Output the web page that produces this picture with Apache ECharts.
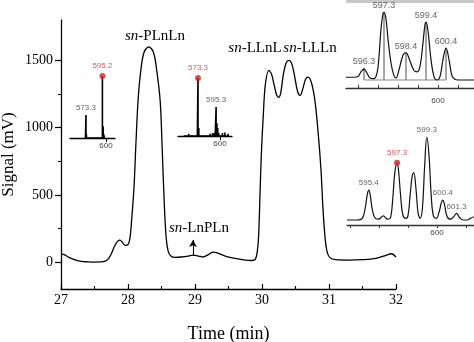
<!DOCTYPE html>
<html><head><meta charset="utf-8">
<script src="https://cdn.jsdelivr.net/npm/echarts@6/dist/echarts.min.js"></script>
<style>html,body{margin:0;padding:0;background:#fff}#c{width:474px;height:342px}</style>
</head><body><div id="c"></div>
<script>
// ---------- main chromatogram ----------
const timeMin = [27.00,27.05,27.10,27.20,27.30,27.40,27.50,27.60,27.65,27.70,27.75,27.80,27.85,27.88,27.92,27.96,28.00,28.03,28.06,28.09,28.12,28.15,28.19,28.24,28.31,28.38,28.43,28.48,28.51,28.54,28.57,28.60,28.64,28.70,28.80,28.90,28.97,29.05,29.12,29.18,29.27,29.35,29.45,29.60,29.75,29.85,29.90,29.93,29.95,29.97,29.99,30.02,30.05,30.10,30.14,30.18,30.22,30.25,30.28,30.32,30.36,30.40,30.44,30.48,30.53,30.57,30.61,30.65,30.69,30.74,30.79,30.84,30.88,30.91,30.94,30.97,31.01,31.10,31.30,31.50,31.70,31.85,31.93,32.00];
const signalMV = [60,55,40,18,6,2,0,1,5,20,60,120,158,163,145,125,130,180,350,560,900,1200,1420,1560,1600,1560,1420,1200,850,450,180,80,45,35,38,45,52,45,38,50,74,65,45,28,15,12,20,80,200,500,800,1100,1320,1425,1400,1320,1240,1225,1260,1400,1480,1500,1480,1400,1270,1240,1290,1360,1375,1330,1200,950,690,400,190,80,35,18,15,18,28,50,62,38];
const xTickLabels = [27,28,29,30,31,32];
const xMinorTicks = [27.5,28.5,29.5,30.5,31.5];
const yTickLabels = [0,500,1000,1500];
const yMinorTicks = [250,750,1250];
const peakNames = [
  {it:'sn', rest:'-PLnLn'},
  {it:'sn', rest:'-LLnL'},
  {it:'sn', rest:'-LLLn'},
  {it:'sn', rest:'-LnPLn'}
];
const arrowTime = 28.97, arrowFrom = 45, arrowTo = 165;

// ---------- inset 1 (MS sticks) ----------
const ms1Mz  = [572.6,573.3,573.9,595.2,596.2,597.2,598.1];
const ms1Int = [0.03,0.37,0.06,1.0,0.19,0.06,0.03];
const ms1Labels = [['573.3',573.3,0.37,false],['595.2',595.2,1.0,true]];
// ---------- inset 2 (MS sticks) ----------
const ms2Mz  = [556,562,566.5,572.5,573.3,574.3,588,591,593,594.2,595.3,596.3,597.3,598.5,603,606,610];
const ms2Int = [0.03,0.04,0.03,0.06,1.0,0.14,0.04,0.05,0.04,0.05,0.5,0.22,0.14,0.05,0.05,0.06,0.04];
const ms2Labels = [['573.3',573.3,1.0,true],['595.3',595.3,0.5,false]];
// ---------- inset 3 (profile) ----------
const ms3Mz  = [595.4,595.8,596.0,596.15,596.3,596.45,596.6,596.8,596.95,597.05,597.15,597.25,597.3,597.4,597.5,597.65,597.8,597.9,598.05,598.2,598.35,598.45,598.6,598.8,598.95,599.1,599.25,599.35,599.4,599.5,599.65,599.8,599.95,600.1,600.25,600.4,600.55,600.7,600.85,601.0,601.8];
const ms3Int = [0.04,0.04,0.05,0.12,0.16,0.10,0.03,0.02,0.10,0.35,0.75,0.98,1.0,0.90,0.60,0.25,0.06,0.03,0.15,0.32,0.40,0.39,0.28,0.14,0.12,0.20,0.55,0.82,0.85,0.72,0.30,0.05,0.0,0.05,0.30,0.47,0.30,0.06,0.01,0.0,0.0];
const ms3Sticks = [596.3,597.3,598.4,599.4,600.4];
const ms3StickInt = [0.18,1.0,0.40,0.85,0.47];
const ms3Labels = ['596.3','597.3','598.4','599.4','600.4'];
const ms3Ticks = [596,597,598,599,600,601];
// ---------- inset 4 (profile) ----------
const ms4Mz  = [593.8,594.5,594.85,595.05,595.2,595.3,595.4,595.55,595.75,596.0,596.3,596.6,596.8,596.95,597.1,597.25,597.35,597.5,597.65,597.85,598.0,598.15,598.3,598.4,598.55,598.7,598.85,599.0,599.15,599.3,599.45,599.6,599.75,599.95,600.15,600.3,600.4,600.5,600.7,600.95,601.15,601.35,601.55,601.8,602.1,602.3,602.55];
const ms4Int = [0.0,0.0,0.02,0.14,0.31,0.36,0.30,0.12,0.02,0.01,0.05,0.01,0.03,0.25,0.58,0.69,0.60,0.28,0.06,0.02,0.05,0.30,0.54,0.57,0.38,0.08,0.02,0.15,0.65,1.0,0.78,0.30,0.05,0.02,0.10,0.21,0.24,0.20,0.04,0.01,0.04,0.08,0.03,0.0,0.0,0.02,0.04];
const ms4Labels = [['595.4',595.3,0.36,false],['597.3',597.25,0.69,true],['599.3',599.3,1.0,false],['600.4',600.4,0.24,false],['601.3',601.35,0.08,false]];
const ms4Ticks = [594,596,598,600,602];

const RED = '#c8303c';
const SERIF = '"Liberation Serif","Times New Roman",serif';
const SANS = '"Liberation Sans",Arial,sans-serif';

function zip(a,b){return a.map((v,i)=>[v,b[i]]);}
function spikes(mz,inten){const d=[];mz.forEach((m,i)=>{d.push([m,0],[m,inten[i]],[m,0]);});return d;}

function insetX(idx,min,max,ticks,labels,inside,tickLen,col){
  return {type:'value',gridIndex:idx,min:min,max:max,
    axisLine:{show:true,onZero:false,lineStyle:{color:col,width:1.3}},
    axisTick:{show:true,inside:inside,length:tickLen,customValues:ticks,lineStyle:{color:col,width:1}},
    axisLabel:{show:true,customValues:labels,margin:inside?9:4,fontSize:8,fontFamily:SANS,color:'#444',formatter:v=>String(v)},
    splitLine:{show:false}};
}
function insetY(idx,min,max){return {type:'value',gridIndex:idx,min:min,max:max,show:false,splitLine:{show:false}};}

function labelSeries(xi,yi,items,fs,dist){
  return {type:'scatter',xAxisIndex:xi,yAxisIndex:yi,silent:true,z:5,
    data:items.map(it=>({value:[it[1],it[2]],symbolSize:it[3]?6:0,
      itemStyle:{color:it[3]?'#d42020':'transparent'},
      label:{show:true,position:'top',distance:dist,formatter:it[0],fontSize:fs,fontFamily:SANS,color:it[3]?RED:'#3a3a44'}}))};
}
function g(l,t,w,h){return {left:l,top:t,width:w,height:h,containLabel:false,outerBoundsMode:'none'};}

const chart = echarts.init(document.getElementById('c'),null,{renderer:'canvas'});
const option = {
  animation:false,
  backgroundColor:'#fff',
  grid:[
    g(61,20,335,269),
    g(70,76,45,62),
    g(178,78,54,58),
    g(346,12,128,76),
    g(347,137,127,88)
  ],
  xAxis:[
    {type:'value',gridIndex:0,min:27,max:32,
      name:'Time (min)',nameLocation:'middle',nameGap:36,nameMoveOverlap:false,
      nameTextStyle:{fontFamily:SERIF,fontSize:18,color:'#000'},
      axisLine:{onZero:false,lineStyle:{color:'#000',width:1.3}},
      axisTick:{inside:true,length:5,customValues:xTickLabels,lineStyle:{color:'#000',width:1.2}},
      axisLabel:{customValues:xTickLabels,margin:4,fontFamily:SERIF,fontSize:14,color:'#000',formatter:v=>String(v)},
      splitLine:{show:false}},
    {type:'value',gridIndex:0,min:27,max:32,position:'bottom',
      axisLine:{show:false,onZero:false},
      axisTick:{inside:true,length:3,customValues:xMinorTicks,lineStyle:{color:'#000',width:1.1}},
      axisLabel:{show:false},splitLine:{show:false}},
    insetX(1,552,612,[600],[600],false,4,'#000'),
    insetX(2,549,614.6,[600],[600],false,4,'#000'),
    insetX(3,595.4,601.8,ms3Ticks,[600],true,3,'#333'),
    insetX(4,593.8,602.55,ms4Ticks,[600],false,3,'#333')
  ],
  yAxis:[
    {type:'value',gridIndex:0,min:-200,max:1800,
      name:'Signal (mV)',nameLocation:'middle',nameGap:44,nameRotate:90,nameMoveOverlap:false,
      nameTextStyle:{fontFamily:SERIF,fontSize:17,color:'#000'},
      axisLine:{show:true,onZero:false,lineStyle:{color:'#000',width:1.3}},
      axisTick:{show:true,length:6,customValues:yTickLabels,lineStyle:{color:'#000',width:1.2}},
      axisLabel:{customValues:yTickLabels,margin:8,fontFamily:SERIF,fontSize:14,color:'#000',formatter:v=>String(v)},
      splitLine:{show:false}},
    {type:'value',gridIndex:0,min:-200,max:1800,position:'left',
      axisLine:{show:false,onZero:false},
      axisTick:{show:true,length:3,customValues:yMinorTicks,lineStyle:{color:'#000',width:1.1}},
      axisLabel:{show:false},splitLine:{show:false}},
    insetY(1,0,1),
    insetY(2,0,1),
    insetY(3,-0.118,1),
    insetY(4,-0.06,1)
  ],
  series:[
    {type:'line',xAxisIndex:0,yAxisIndex:0,data:zip(timeMin,signalMV),smooth:0.35,
      showSymbol:false,lineStyle:{color:'#000',width:1.3},silent:true,
      markLine:{silent:true,symbol:['none','arrow'],symbolSize:[6,7],
        lineStyle:{color:'#000',width:1.1,type:'solid'},label:{show:false},
        data:[[{coord:[arrowTime,arrowFrom]},{coord:[arrowTime,arrowTo]}]]}},
    {type:'line',xAxisIndex:2,yAxisIndex:2,data:spikes(ms1Mz,ms1Int),showSymbol:false,
      lineStyle:{color:'#000',width:1.6},silent:true},
    labelSeries(2,2,ms1Labels,8,3),
    {type:'line',xAxisIndex:3,yAxisIndex:3,data:spikes(ms2Mz,ms2Int),showSymbol:false,
      lineStyle:{color:'#000',width:1.6},silent:true},
    labelSeries(3,3,ms2Labels,8,3),
    {type:'line',xAxisIndex:4,yAxisIndex:4,data:spikes(ms3Sticks,ms3StickInt),showSymbol:false,
      lineStyle:{color:'#888',width:1},silent:true},
    {type:'line',xAxisIndex:4,yAxisIndex:4,data:zip(ms3Mz,ms3Int),smooth:0.4,showSymbol:false,
      lineStyle:{color:'#111',width:1.2},silent:true},
    labelSeries(4,4,ms3Labels.map((t,i)=>[t,ms3Sticks[i],ms3StickInt[i],false]),9,2),
    {type:'line',xAxisIndex:5,yAxisIndex:5,data:zip(ms4Mz,ms4Int),smooth:0.4,showSymbol:false,
      lineStyle:{color:'#111',width:1.2},silent:true},
    labelSeries(5,5,ms4Labels,8,3)
  ],
  graphic:[
    {type:'rect',shape:{x:346,y:0,width:128,height:3},style:{fill:'#c8c8c8'}},
  ].concat([[155,36],[255,48],[310,48],[199,228]].map((p,i)=>({
    type:'text',x:p[0],y:p[1],
    style:{text:'{i|'+peakNames[i].it+'}{r|'+peakNames[i].rest+'}',align:'center',verticalAlign:'middle',
      rich:{i:{fontStyle:'italic',fontSize:15,fontFamily:SERIF,fill:'#000'},
            r:{fontSize:15,fontFamily:SERIF,fill:'#000'}}}
  })))
};
chart.setOption(option);
</script>
</body></html>
